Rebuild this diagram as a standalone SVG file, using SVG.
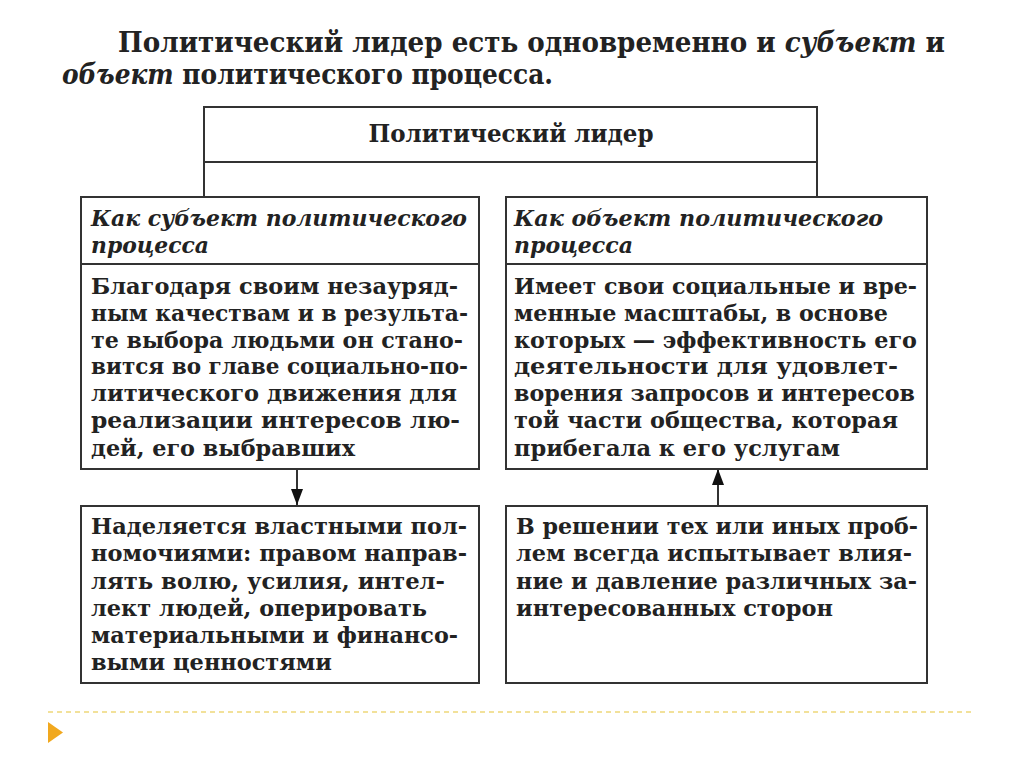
<svg xmlns="http://www.w3.org/2000/svg" width="1024" height="767" viewBox="0 0 1024 767">
<style>
.box{fill:#fff;stroke:#333;stroke-width:2}
.ln{stroke:#333;stroke-width:2;fill:none}
.title{font-family:"DejaVu Serif","Liberation Serif",serif;font-size:28px;fill:#222;font-weight:bold}
.head{font-family:"DejaVu Serif","Liberation Serif",serif;font-size:25px;fill:#222;font-weight:bold}
.it{font-family:"DejaVu Serif","Liberation Serif",serif;font-style:italic;font-size:22px;fill:#222;font-weight:bold}
.body{font-family:"DejaVu Serif","Liberation Serif",serif;font-size:23px;fill:#222;font-weight:bold}
</style>
<defs>
<marker id="ah" viewBox="0 0 16 12" refX="16" refY="6" markerWidth="16" markerHeight="12" markerUnits="userSpaceOnUse" orient="auto">
<path d="M0,0 L16,6 L0,12 Z" fill="#111"/>
</marker>
</defs>
<rect width="1024" height="767" fill="#fff"/>
<g id="title">
<text class="title" x="118" y="52" textLength="827" lengthAdjust="spacingAndGlyphs">Политический лидер есть одновременно и <tspan font-style="italic">субъект</tspan> и</text>
<text class="title" x="62" y="84" textLength="491" lengthAdjust="spacingAndGlyphs"><tspan font-style="italic">объект</tspan> политического процесса.</text>
</g>
<g id="connectors">
<line class="ln" x1="204" y1="162" x2="204" y2="197"/>
<line class="ln" x1="817" y1="162" x2="817" y2="197"/>
<line class="ln" x1="297" y1="469" x2="297" y2="505" marker-end="url(#ah)"/>
<line class="ln" x1="718" y1="505" x2="718" y2="469" marker-end="url(#ah)"/>
</g>
<g id="node-leader">
<rect class="box" x="204" y="107" width="613" height="55"/>
<text class="head" x="511" y="142" text-anchor="middle" textLength="285" lengthAdjust="spacingAndGlyphs">Политический лидер</text>
</g>
<g id="node-subject">
<rect class="box" x="81" y="197" width="398" height="272"/>
<line class="ln" x1="81" y1="264" x2="479" y2="264"/>
<text class="it" x="91" y="226" textLength="376" lengthAdjust="spacingAndGlyphs">Как субъект политического</text>
<text class="it" x="91" y="253" textLength="118" lengthAdjust="spacingAndGlyphs">процесса</text>
<text class="body" x="91" y="294" textLength="367" lengthAdjust="spacingAndGlyphs">Благодаря своим незауряд-</text>
<text class="body" x="91" y="321" textLength="377" lengthAdjust="spacingAndGlyphs">ным качествам и в результа-</text>
<text class="body" x="91" y="348" textLength="372" lengthAdjust="spacingAndGlyphs">те выбора людьми он стано-</text>
<text class="body" x="91" y="374" textLength="377" lengthAdjust="spacingAndGlyphs">вится во главе социально-по-</text>
<text class="body" x="91" y="401" textLength="366" lengthAdjust="spacingAndGlyphs">литического движения для</text>
<text class="body" x="91" y="428" textLength="369" lengthAdjust="spacingAndGlyphs">реализации интересов лю-</text>
<text class="body" x="91" y="456" textLength="264" lengthAdjust="spacingAndGlyphs">дей, его выбравших</text>
</g>
<g id="node-object">
<rect class="box" x="506" y="197" width="421" height="272"/>
<line class="ln" x1="506" y1="264" x2="927" y2="264"/>
<text class="it" x="514" y="226" textLength="369" lengthAdjust="spacingAndGlyphs">Как объект политического</text>
<text class="it" x="514" y="253" textLength="119" lengthAdjust="spacingAndGlyphs">процесса</text>
<text class="body" x="514" y="294" textLength="403" lengthAdjust="spacingAndGlyphs">Имеет свои социальные и вре-</text>
<text class="body" x="514" y="321" textLength="374" lengthAdjust="spacingAndGlyphs">менные масштабы, в основе</text>
<text class="body" x="514" y="348" textLength="403" lengthAdjust="spacingAndGlyphs">которых — эффективность его</text>
<text class="body" x="514" y="374" textLength="384" lengthAdjust="spacingAndGlyphs">деятельности для удовлет-</text>
<text class="body" x="514" y="401" textLength="401" lengthAdjust="spacingAndGlyphs">ворения запросов и интересов</text>
<text class="body" x="514" y="428" textLength="384" lengthAdjust="spacingAndGlyphs">той части общества, которая</text>
<text class="body" x="514" y="456" textLength="326" lengthAdjust="spacingAndGlyphs">прибегала к его услугам</text>
</g>
<g id="node-subject-powers">
<rect class="box" x="81" y="506" width="398" height="177"/>
<text class="body" x="91" y="534" textLength="376" lengthAdjust="spacingAndGlyphs">Наделяется властными пол-</text>
<text class="body" x="91" y="561" textLength="376" lengthAdjust="spacingAndGlyphs">номочиями: правом направ-</text>
<text class="body" x="91" y="589" textLength="354" lengthAdjust="spacingAndGlyphs">лять волю, усилия, интел-</text>
<text class="body" x="91" y="616" textLength="336" lengthAdjust="spacingAndGlyphs">лект людей, оперировать</text>
<text class="body" x="91" y="643" textLength="367" lengthAdjust="spacingAndGlyphs">материальными и финансо-</text>
<text class="body" x="91" y="670" textLength="241" lengthAdjust="spacingAndGlyphs">выми ценностями</text>
</g>
<g id="node-object-influence">
<rect class="box" x="506" y="506" width="421" height="177"/>
<text class="body" x="516" y="534" textLength="402" lengthAdjust="spacingAndGlyphs">В решении тех или иных проб-</text>
<text class="body" x="516" y="561" textLength="396" lengthAdjust="spacingAndGlyphs">лем всегда испытывает влия-</text>
<text class="body" x="516" y="589" textLength="401" lengthAdjust="spacingAndGlyphs">ние и давление различных за-</text>
<text class="body" x="516" y="616" textLength="317" lengthAdjust="spacingAndGlyphs">интересованных сторон</text>
</g>
<g id="decoration">
<line x1="48" y1="712" x2="975" y2="712" stroke="#EED77A" stroke-width="1.5" stroke-dasharray="5,4"/>
<polygon points="48,722 63,732.5 48,743" fill="#F1A81E"/>
</g>
</svg>
